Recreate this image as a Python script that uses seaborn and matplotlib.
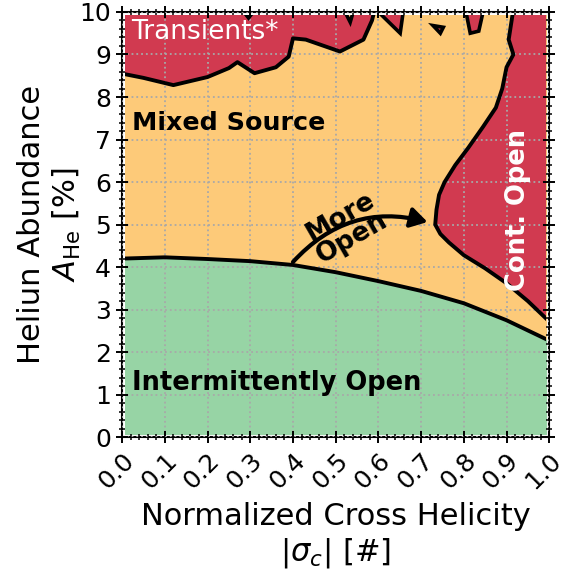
import numpy as np
import pandas as pd
import matplotlib
matplotlib.use("Agg")
import matplotlib.pyplot as plt
import seaborn as sns
from matplotlib.patches import Rectangle, Polygon, FancyArrowPatch
from matplotlib.ticker import MultipleLocator

# ---- data ----
green_x = [0.0, 0.1, 0.2, 0.3, 0.4, 0.5, 0.6, 0.7, 0.8, 0.9, 1.0]
green_y = [4.20, 4.23, 4.19, 4.14, 4.05, 3.88, 3.67, 3.44, 3.15, 2.75, 2.27]

trans_x = [0.0, 0.05, 0.12, 0.20, 0.25, 0.27, 0.31, 0.36, 0.39, 0.40, 0.43, 0.51, 0.565, 0.585, 0.59]
trans_y = [8.55, 8.45, 8.28, 8.47, 8.68, 8.82, 8.56, 8.70, 8.95, 9.38, 9.35, 9.07, 9.35, 9.80, 10.0]

open_x = [0.915, 0.905, 0.916, 0.90, 0.89, 0.875, 0.845, 0.81, 0.78, 0.755, 0.742, 0.736, 0.733,
          0.745, 0.765, 0.80, 0.85, 0.90, 0.95, 1.0]
open_y = [10.0, 9.35, 9.0, 8.7, 8.2, 7.75, 7.3, 6.8, 6.4, 6.0, 5.7, 5.35, 5.0,
          4.78, 4.58, 4.28, 3.97, 3.62, 3.2, 2.72]

spike1_x = [0.600, 0.651, 0.658]
spike1_y = [10.0, 9.50, 10.0]
island_x = [0.728, 0.752, 0.745]
island_y = [9.68, 9.64, 9.50]
spike2_x = [0.805, 0.815, 0.835, 0.845]
spike2_y = [10.0, 9.50, 9.55, 10.0]
notch1_x = [0.285, 0.296, 0.307]
notch1_y = [10.0, 9.86, 10.0]
notch2_x = [0.522, 0.534, 0.541]
notch2_y = [10.0, 9.76, 10.0]

arrow_start = (0.40, 4.12)
arrow_end = (0.715, 5.06)

x_ticks = [0.0, 0.1, 0.2, 0.3, 0.4, 0.5, 0.6, 0.7, 0.8, 0.9, 1.0]
y_ticks = [0, 1, 2, 3, 4, 5, 6, 7, 8, 9, 10]

RED = "#d13a50"
ORANGE = "#fdca79"
GREEN = "#97d4a5"

sns.set_theme(style="ticks")
plt.rcParams['font.family'] = ['DejaVu Sans']
plt.rcParams['mathtext.fontset'] = 'dejavusans'
plt.rcParams['text.color'] = 'black'
plt.rcParams['axes.labelcolor'] = 'black'
plt.rcParams['xtick.color'] = 'black'
plt.rcParams['ytick.color'] = 'black'

fig = plt.figure(figsize=(5.68, 5.70), dpi=100)
ax = fig.add_axes([0.215, 0.233, 0.752, 0.746])
ax.set_xlim(0, 1)
ax.set_ylim(0, 10)

clip = Rectangle((0.007, 0.08), 0.986, 9.84, transform=ax.transData)

arts = []
arts.append(ax.fill_between([0, 1], [0, 0], [10, 10], color=ORANGE, lw=0, zorder=1))
arts.append(ax.fill_between(green_x, 0, green_y, color=GREEN, lw=0, zorder=1))
arts.append(ax.fill_between(trans_x, trans_y, 10, color=RED, lw=0, zorder=1))
poly_open = list(zip(open_x, open_y)) + [(1.0, 10.0)]
arts.append(ax.add_patch(Polygon(poly_open, closed=True, color=RED, lw=0, zorder=1)))
for px, py, fc in [(spike1_x, spike1_y, RED), (island_x, island_y, RED),
                   (spike2_x, spike2_y, RED), (notch1_x, notch1_y, ORANGE),
                   (notch2_x, notch2_y, ORANGE)]:
    arts.append(ax.add_patch(Polygon(list(zip(px, py)), closed=True, facecolor=fc,
                                     edgecolor='black', lw=2.6, zorder=3)))

df_g = pd.DataFrame({"x": green_x, "y": green_y})
df_t = pd.DataFrame({"x": trans_x, "y": trans_y})
df_o = pd.DataFrame({"x": open_x, "y": open_y})
for df in (df_g, df_t, df_o):
    sns.lineplot(data=df, x="x", y="y", sort=False, estimator=None, errorbar=None,
                 color="black", lw=2.8, ax=ax, zorder=3)
for ln in ax.lines:
    ln.set_solid_joinstyle('round')
    arts.append(ln)
for a in arts:
    a.set_clip_path(clip)

ax.set_axisbelow(False)
ax.grid(True, which='major', ls=':', color='#a8a8a8', lw=1.3)

arr = FancyArrowPatch(arrow_start, arrow_end, connectionstyle="arc3,rad=-0.3",
                      arrowstyle="-|>,head_length=10,head_width=6", color='black',
                      lw=3.0, zorder=4, shrinkA=0, shrinkB=0)
ax.add_patch(arr)

ax.text(0.02, 9.53, "Transients*", color='white', fontsize=19, va='center', ha='left', zorder=5)
ax.text(0.023, 7.39, "Mixed Source", color='black', fontsize=18.3, fontweight='bold',
        va='center', ha='left', zorder=5)
ax.text(0.023, 1.27, "Intermittently Open", color='black', fontsize=18.5, fontweight='bold',
        va='center', ha='left', zorder=5)
ax.text(0.927, 5.34, "Cont. Open", color='white', fontsize=18.5, fontweight='bold',
        rotation=90, va='center', ha='center', zorder=5)
ax.text(0.525, 4.93, "More\nOpen", color='black', fontsize=19, fontweight='bold',
        rotation=30, va='center', ha='center', linespacing=0.9, zorder=5,
        rotation_mode='anchor')

ax.set_xticks(x_ticks)
ax.set_yticks(y_ticks)
ax.set_xticklabels([f"{v:.1f}" for v in x_ticks], rotation=45, ha='right',
                   rotation_mode='anchor')
ax.set_yticklabels([str(v) for v in y_ticks])
ax.xaxis.set_minor_locator(MultipleLocator(0.02))
ax.yaxis.set_minor_locator(MultipleLocator(0.2))
ax.tick_params(which='major', direction='inout', length=9, width=1.4, labelsize=18,
               top=True, right=True, colors='black')
ax.tick_params(which='minor', direction='inout', length=5, width=1.1,
               top=True, right=True)
for s in ax.spines.values():
    s.set_linewidth(1.5)
    s.set_color('black')

ax.set_xlabel("Normalized Cross Helicity\n$|\\sigma_c|$ [#]", fontsize=22, labelpad=6)
ax.set_ylabel("Heliun Abundance\n$A_{\\mathrm{He}}$ [%]", fontsize=22, labelpad=-3)

fig.savefig("out.png", dpi=100)
